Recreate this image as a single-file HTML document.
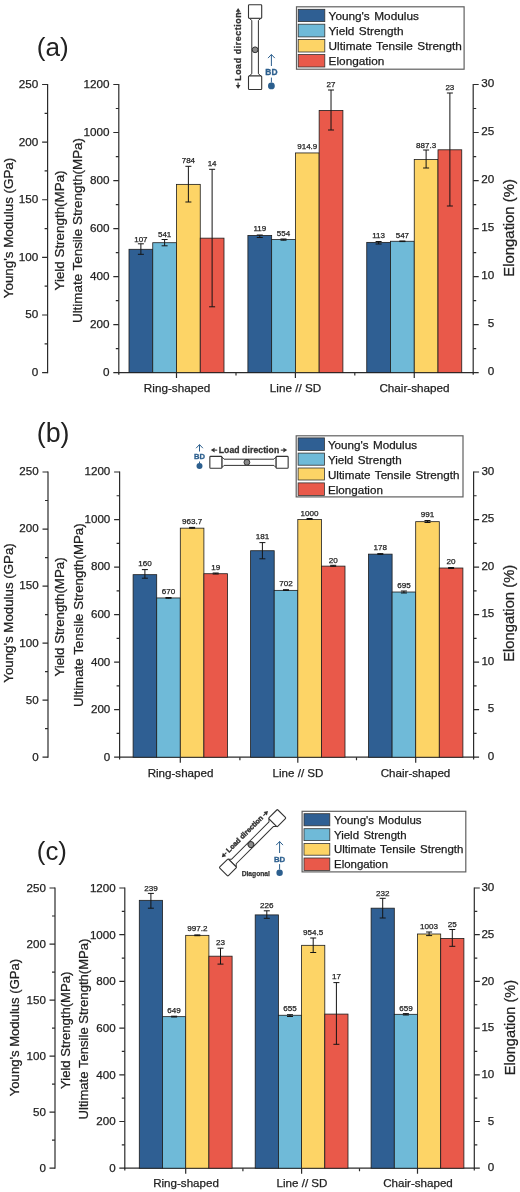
<!DOCTYPE html>
<html lang="en">
<head>
<meta charset="utf-8">
<title>Tensile properties</title>
<style>
html,body{margin:0;padding:0;background:#fff;}
body{width:520px;height:1192px;overflow:hidden;}
svg{display:block;font-family:"Liberation Sans",sans-serif;}
</style>
</head>
<body>
<svg width="520" height="1192" viewBox="0 0 520 1192">
<rect width="520" height="1192" fill="#fff"/>
<g stroke="#2b2b2b" stroke-width="1.2" fill="none" stroke-linecap="square">
<path d="M47.6 84.5V372.6"/>
<path d="M118.8 84.5V372.6"/>
<path d="M473.2 84.5V372.6"/>
<path d="M118.8 372.6H473.2"/>
</g>
<g stroke="#2b2b2b" stroke-width="1.2" fill="none">
<path d="M47.6 372.6h-5.5M47.6 343.79h-3M47.6 314.98h-5.5M47.6 286.17h-3M47.6 257.36h-5.5M47.6 228.55h-3M47.6 199.74h-5.5M47.6 170.93h-3M47.6 142.12h-5.5M47.6 113.31h-3M47.6 84.5h-5.5M118.8 372.6h-5.5M118.8 348.59h-3M118.8 324.58h-5.5M118.8 300.58h-3M118.8 276.57h-5.5M118.8 252.56h-3M118.8 228.55h-5.5M118.8 204.54h-3M118.8 180.53h-5.5M118.8 156.53h-3M118.8 132.52h-5.5M118.8 108.51h-3M118.8 84.5h-5.5M473.2 372.6h5.5M473.2 348.59h3M473.2 324.58h5.5M473.2 300.58h3M473.2 276.57h5.5M473.2 252.56h3M473.2 228.55h5.5M473.2 204.54h3M473.2 180.53h5.5M473.2 156.53h3M473.2 132.52h5.5M473.2 108.51h3M473.2 84.5h5.5M176.5 372.6v5.5M295.4 372.6v5.5M414.25 372.6v5.5M118.8 372.6v2.2M236 372.6v3M354.8 372.6v3M473.2 372.6v2.2"/>
</g>
<g stroke="#1c1c1c" stroke-width="0.8">
<rect x="129" y="249.29" width="23.75" height="123.31" fill="#2f5f93"/>
<rect x="152.75" y="242.71" width="23.75" height="129.89" fill="#6fbad8"/>
<rect x="176.5" y="184.37" width="23.75" height="188.23" fill="#fdd466"/>
<rect x="200.25" y="238.15" width="23.75" height="134.45" fill="#e9594a"/>
<rect x="247.9" y="235.46" width="23.75" height="137.14" fill="#2f5f93"/>
<rect x="271.65" y="239.59" width="23.75" height="133.01" fill="#6fbad8"/>
<rect x="295.4" y="152.95" width="23.75" height="219.65" fill="#fdd466"/>
<rect x="319.15" y="110.43" width="23.75" height="262.17" fill="#e9594a"/>
<rect x="366.75" y="242.38" width="23.75" height="130.22" fill="#2f5f93"/>
<rect x="390.5" y="241.27" width="23.75" height="131.33" fill="#6fbad8"/>
<rect x="414.25" y="159.57" width="23.75" height="213.03" fill="#fdd466"/>
<rect x="438" y="149.8" width="23.75" height="222.8" fill="#e9594a"/>
</g>
<g stroke="#141414" stroke-width="1" fill="none">
<path d="M140.88 243.8V254.3M137.88 243.8h6M137.88 254.3h6M164.62 239.5V245.8M161.62 239.5h6M161.62 245.8h6M188.38 166.3V202M185.38 166.3h6M185.38 202h6M212.12 169.3V306.8M209.12 169.3h6M209.12 306.8h6M259.77 235V237.5M256.77 235h6M256.77 237.5h6M283.52 239V240.2M280.52 239h6M280.52 240.2h6M331.02 90V130M328.02 90h6M328.02 130h6M378.62 241.5V244M375.62 241.5h6M375.62 244h6M402.38 241V241.6M399.38 241h6M399.38 241.6h6M426.12 150V168M423.12 150h6M423.12 168h6M449.88 93V206M446.88 93h6M446.88 206h6"/>
</g>
<g font-size="8" text-anchor="middle" fill="#222" stroke="#222" stroke-width="0.25">
<text x="140.88" y="241.6">107</text>
<text x="164.62" y="236.6">541</text>
<text x="188.38" y="163.4">784</text>
<text x="212.12" y="165.6">14</text>
<text x="259.77" y="231.4">119</text>
<text x="283.52" y="235.8">554</text>
<text x="307.27" y="149.4">914.9</text>
<text x="331.02" y="86.8">27</text>
<text x="378.62" y="238">113</text>
<text x="402.38" y="238">547</text>
<text x="426.12" y="148.4">887.3</text>
<text x="449.88" y="90.2">23</text>
</g>
<g font-size="11.7" fill="#222" stroke="#222" stroke-width="0.25">
<g text-anchor="end">
<text x="38.2" y="376.01">0</text>
<text x="38.2" y="318.39">50</text>
<text x="38.2" y="260.77">100</text>
<text x="38.2" y="203.15">150</text>
<text x="38.2" y="145.53">200</text>
<text x="38.2" y="87.91">250</text>
<text x="109.4" y="376.01">0</text>
<text x="109.4" y="328">200</text>
<text x="109.4" y="279.98">400</text>
<text x="109.4" y="231.96">600</text>
<text x="109.4" y="183.95">800</text>
<text x="109.4" y="135.93">1000</text>
<text x="109.4" y="87.91">1200</text>
</g>
<text x="494.3" y="375.41" text-anchor="end">0</text>
<text x="494.3" y="327.4" text-anchor="end">5</text>
<text x="494.3" y="279.38" text-anchor="end">10</text>
<text x="494.3" y="231.36" text-anchor="end">15</text>
<text x="494.3" y="183.35" text-anchor="end">20</text>
<text x="494.3" y="135.33" text-anchor="end">25</text>
<text x="494.3" y="87.31" text-anchor="end">30</text>
<g text-anchor="middle">
<text x="177" y="392">Ring-shaped</text>
<text x="295.5" y="392">Line // SD</text>
<text x="414.5" y="392">Chair-shaped</text>
</g></g>
<g font-size="13.4" fill="#222" stroke="#222" stroke-width="0.25" text-anchor="middle">
<text transform="translate(12.5 228) rotate(-90)">Young's Modulus (GPa)</text>
<text transform="translate(63.5 230.5) rotate(-90)">Yield Strength(MPa)</text>
<text transform="translate(82.3 230.5) rotate(-90)">Ultimate Tensile Strength(MPa)</text>
<text transform="translate(514.4 227.9) rotate(-90)" font-size="14.9">Elongation (%)</text>
</g>
<rect x="296.5" y="6.8" width="167.6" height="62.4" fill="#fff" stroke="#606060" stroke-width="1.2"/>
<g stroke="#333" stroke-width="0.8">
<rect x="298.2" y="9.3" width="26.6" height="12.3" fill="#2f5f93"/>
<rect x="298.2" y="24.2" width="26.6" height="12.7" fill="#6fbad8"/>
<rect x="298.2" y="39.4" width="26.6" height="12.6" fill="#fdd466"/>
<rect x="298.2" y="54.5" width="26.6" height="12.5" fill="#e9594a"/>
</g>
<g font-size="11.8" word-spacing="1.2" fill="#1a1a1a" stroke="#1a1a1a" stroke-width="0.25">
<text x="328.6" y="19.7">Young's Modulus</text>
<text x="328.6" y="34.8">Yield Strength</text>
<text x="328.6" y="49.95">Ultimate Tensile Strength</text>
<text x="328.6" y="65">Elongation</text>
</g>
<text x="36.8" y="56.2" font-size="26.1" fill="#222">(a)</text>
<g stroke="#2b2b2b" stroke-width="1.2" fill="none" stroke-linecap="square">
<path d="M48 472V757.2"/>
<path d="M119.6 472V757.2"/>
<path d="M473.6 472V757.2"/>
<path d="M119.6 757.2H473.6"/>
</g>
<g stroke="#2b2b2b" stroke-width="1.2" fill="none">
<path d="M48 757.2h-5.5M48 728.68h-3M48 700.16h-5.5M48 671.64h-3M48 643.12h-5.5M48 614.6h-3M48 586.08h-5.5M48 557.56h-3M48 529.04h-5.5M48 500.52h-3M48 472h-5.5M119.6 757.2h-5.5M119.6 733.43h-3M119.6 709.67h-5.5M119.6 685.9h-3M119.6 662.13h-5.5M119.6 638.37h-3M119.6 614.6h-5.5M119.6 590.83h-3M119.6 567.07h-5.5M119.6 543.3h-3M119.6 519.53h-5.5M119.6 495.77h-3M119.6 472h-5.5M473.6 757.2h5.5M473.6 733.43h3M473.6 709.67h5.5M473.6 685.9h3M473.6 662.13h5.5M473.6 638.37h3M473.6 614.6h5.5M473.6 590.83h3M473.6 567.07h5.5M473.6 543.3h3M473.6 519.53h5.5M473.6 495.77h3M473.6 472h5.5M180.3 757.2v5.5M297.8 757.2v5.5M415.7 757.2v5.5M119.6 757.2v2.2M239.9 757.2v3M356.5 757.2v3M473.6 757.2v2.2"/>
</g>
<g stroke="#1c1c1c" stroke-width="0.8">
<rect x="133.1" y="574.67" width="23.6" height="182.53" fill="#2f5f93"/>
<rect x="156.7" y="597.96" width="23.6" height="159.24" fill="#6fbad8"/>
<rect x="180.3" y="528.16" width="23.6" height="229.04" fill="#fdd466"/>
<rect x="203.9" y="573.72" width="23.6" height="183.48" fill="#e9594a"/>
<rect x="250.6" y="550.72" width="23.6" height="206.48" fill="#2f5f93"/>
<rect x="274.2" y="590.36" width="23.6" height="166.84" fill="#6fbad8"/>
<rect x="297.8" y="519.53" width="23.6" height="237.67" fill="#fdd466"/>
<rect x="321.4" y="566.12" width="23.6" height="191.08" fill="#e9594a"/>
<rect x="368.5" y="554.14" width="23.6" height="203.06" fill="#2f5f93"/>
<rect x="392.1" y="592.02" width="23.6" height="165.18" fill="#6fbad8"/>
<rect x="415.7" y="521.67" width="23.6" height="235.53" fill="#fdd466"/>
<rect x="439.3" y="568.02" width="23.6" height="189.18" fill="#e9594a"/>
</g>
<g stroke="#141414" stroke-width="1" fill="none">
<path d="M144.9 569.6V578.2M141.9 569.6h6M141.9 578.2h6M168.5 597.5V598.3M165.5 597.5h6M165.5 598.3h6M192.1 527.4V528.2M189.1 527.4h6M189.1 528.2h6M215.7 573V574M212.7 573h6M212.7 574h6M262.4 542.6V558.8M259.4 542.6h6M259.4 558.8h6M286 589.7V590.5M283 589.7h6M283 590.5h6M309.6 518.5V519.5M306.6 518.5h6M306.6 519.5h6M333.2 565.3V566.3M330.2 565.3h6M330.2 566.3h6M380.3 553.6V554.4M377.3 553.6h6M377.3 554.4h6M403.9 591V593M400.9 591h6M400.9 593h6M427.5 520.5V522.5M424.5 520.5h6M424.5 522.5h6M451.1 567.5V568.5M448.1 567.5h6M448.1 568.5h6"/>
</g>
<g font-size="8.1" text-anchor="middle" fill="#222" stroke="#222" stroke-width="0.25">
<text x="144.9" y="566.4">160</text>
<text x="168.5" y="594.4">670</text>
<text x="192.1" y="524.4">963.7</text>
<text x="215.7" y="569.8">19</text>
<text x="262.4" y="539.3">181</text>
<text x="286" y="586.3">702</text>
<text x="309.6" y="515.6">1000</text>
<text x="333.2" y="562.5">20</text>
<text x="380.3" y="550.4">178</text>
<text x="403.9" y="587.5">695</text>
<text x="427.5" y="517">991</text>
<text x="451.1" y="564.3">20</text>
</g>
<g font-size="11.6" fill="#222" stroke="#222" stroke-width="0.25">
<g text-anchor="end">
<text x="38.7" y="760.58">0</text>
<text x="38.7" y="703.54">50</text>
<text x="38.7" y="646.5">100</text>
<text x="38.7" y="589.46">150</text>
<text x="38.7" y="532.42">200</text>
<text x="38.7" y="475.38">250</text>
<text x="110.3" y="760.58">0</text>
<text x="110.3" y="713.04">200</text>
<text x="110.3" y="665.51">400</text>
<text x="110.3" y="617.98">600</text>
<text x="110.3" y="570.44">800</text>
<text x="110.3" y="522.91">1000</text>
<text x="110.3" y="475.38">1200</text>
</g>
<text x="494.3" y="759.98" text-anchor="end">0</text>
<text x="494.3" y="712.44" text-anchor="end">5</text>
<text x="494.3" y="664.91" text-anchor="end">10</text>
<text x="494.3" y="617.38" text-anchor="end">15</text>
<text x="494.3" y="569.84" text-anchor="end">20</text>
<text x="494.3" y="522.31" text-anchor="end">25</text>
<text x="494.3" y="474.78" text-anchor="end">30</text>
<g text-anchor="middle">
<text x="180.5" y="776.5">Ring-shaped</text>
<text x="298" y="776.5">Line // SD</text>
<text x="415.5" y="776.5">Chair-shaped</text>
</g></g>
<g font-size="13.3" fill="#222" stroke="#222" stroke-width="0.25" text-anchor="middle">
<text transform="translate(12.8 613) rotate(-90)">Young's Modulus (GPa)</text>
<text transform="translate(63.8 617) rotate(-90)">Yield Strength(MPa)</text>
<text transform="translate(82.5 615.2) rotate(-90)">Ultimate Tensile Strength(MPa)</text>
<text transform="translate(514.4 613.3) rotate(-90)" font-size="14.8">Elongation (%)</text>
</g>
<rect x="296.2" y="435.8" width="166.8" height="61.1" fill="#fff" stroke="#606060" stroke-width="1.2"/>
<g stroke="#333" stroke-width="0.8">
<rect x="298.1" y="437.9" width="26.3" height="12.5" fill="#2f5f93"/>
<rect x="298.1" y="453.1" width="26.3" height="12.1" fill="#6fbad8"/>
<rect x="298.1" y="468" width="26.3" height="12" fill="#fdd466"/>
<rect x="298.1" y="482.9" width="26.3" height="12.5" fill="#e9594a"/>
</g>
<g font-size="11.65" word-spacing="1.2" fill="#1a1a1a" stroke="#1a1a1a" stroke-width="0.25">
<text x="327.9" y="449.14">Young's Modulus</text>
<text x="327.9" y="464.14">Yield Strength</text>
<text x="327.9" y="478.99">Ultimate Tensile Strength</text>
<text x="327.9" y="494.14">Elongation</text>
</g>
<text x="36.8" y="442.4" font-size="26.8" fill="#222">(b)</text>
<g stroke="#2b2b2b" stroke-width="1.2" fill="none" stroke-linecap="square">
<path d="M55 888V1168.2"/>
<path d="M124.8 888V1168.2"/>
<path d="M474.3 888V1168.2"/>
<path d="M124.8 1168.2H474.3"/>
</g>
<g stroke="#2b2b2b" stroke-width="1.2" fill="none">
<path d="M55 1168.2h-5.5M55 1140.18h-3M55 1112.16h-5.5M55 1084.14h-3M55 1056.12h-5.5M55 1028.1h-3M55 1000.08h-5.5M55 972.06h-3M55 944.04h-5.5M55 916.02h-3M55 888h-5.5M124.8 1168.2h-5.5M124.8 1144.85h-3M124.8 1121.5h-5.5M124.8 1098.15h-3M124.8 1074.8h-5.5M124.8 1051.45h-3M124.8 1028.1h-5.5M124.8 1004.75h-3M124.8 981.4h-5.5M124.8 958.05h-3M124.8 934.7h-5.5M124.8 911.35h-3M124.8 888h-5.5M474.3 1168.2h5.5M474.3 1144.85h3M474.3 1121.5h5.5M474.3 1098.15h3M474.3 1074.8h5.5M474.3 1051.45h3M474.3 1028.1h5.5M474.3 1004.75h3M474.3 981.4h5.5M474.3 958.05h3M474.3 934.7h5.5M474.3 911.35h3M474.3 888h5.5M185.7 1168.2v5.5M301.6 1168.2v5.5M417.5 1168.2v5.5M124.8 1168.2v2.2M242.9 1168.2v3M359.5 1168.2v3M474.3 1168.2v2.2"/>
</g>
<g stroke="#1c1c1c" stroke-width="0.8">
<rect x="139.3" y="900.33" width="23.2" height="267.87" fill="#2f5f93"/>
<rect x="162.5" y="1016.66" width="23.2" height="151.54" fill="#6fbad8"/>
<rect x="185.7" y="935.35" width="23.2" height="232.85" fill="#fdd466"/>
<rect x="208.9" y="956.18" width="23.2" height="212.02" fill="#e9594a"/>
<rect x="255.2" y="914.9" width="23.2" height="253.3" fill="#2f5f93"/>
<rect x="278.4" y="1015.26" width="23.2" height="152.94" fill="#6fbad8"/>
<rect x="301.6" y="945.32" width="23.2" height="222.88" fill="#fdd466"/>
<rect x="324.8" y="1014.09" width="23.2" height="154.11" fill="#e9594a"/>
<rect x="371.1" y="908.17" width="23.2" height="260.03" fill="#2f5f93"/>
<rect x="394.3" y="1014.32" width="23.2" height="153.88" fill="#6fbad8"/>
<rect x="417.5" y="934" width="23.2" height="234.2" fill="#fdd466"/>
<rect x="440.7" y="938.44" width="23.2" height="229.76" fill="#e9594a"/>
</g>
<g stroke="#141414" stroke-width="1" fill="none">
<path d="M150.9 893.4V908.2M147.9 893.4h6M147.9 908.2h6M174.1 1016.2V1017M171.1 1016.2h6M171.1 1017h6M197.3 934.9V935.7M194.3 934.9h6M194.3 935.7h6M220.5 948.2V964.1M217.5 948.2h6M217.5 964.1h6M266.8 910.8V918.3M263.8 910.8h6M263.8 918.3h6M290 1014.7V1016.5M287 1014.7h6M287 1016.5h6M313.2 938V952.5M310.2 938h6M310.2 952.5h6M336.4 982.6V1044.3M333.4 982.6h6M333.4 1044.3h6M382.7 898.3V918M379.7 898.3h6M379.7 918h6M405.9 1013.6V1015M402.9 1013.6h6M402.9 1015h6M429.1 932V935.6M426.1 932h6M426.1 935.6h6M452.3 929.5V946.3M449.3 929.5h6M449.3 946.3h6"/>
</g>
<g font-size="8.1" text-anchor="middle" fill="#222" stroke="#222" stroke-width="0.25">
<text x="150.9" y="890.8">239</text>
<text x="174.1" y="1012.9">649</text>
<text x="197.3" y="931.4">997.2</text>
<text x="220.5" y="945">23</text>
<text x="266.8" y="908">226</text>
<text x="290" y="1011.4">655</text>
<text x="313.2" y="935">954.5</text>
<text x="336.4" y="979">17</text>
<text x="382.7" y="895.5">232</text>
<text x="405.9" y="1010.6">659</text>
<text x="429.1" y="928.6">1003</text>
<text x="452.3" y="926.7">25</text>
</g>
<g font-size="11.6" fill="#222" stroke="#222" stroke-width="0.25">
<g text-anchor="end">
<text x="45.9" y="1172.08">0</text>
<text x="45.9" y="1116.04">50</text>
<text x="45.9" y="1060">100</text>
<text x="45.9" y="1003.96">150</text>
<text x="45.9" y="947.92">200</text>
<text x="45.9" y="891.88">250</text>
<text x="115.7" y="1172.08">0</text>
<text x="115.7" y="1125.38">200</text>
<text x="115.7" y="1078.68">400</text>
<text x="115.7" y="1031.98">600</text>
<text x="115.7" y="985.28">800</text>
<text x="115.7" y="938.58">1000</text>
<text x="115.7" y="891.88">1200</text>
</g>
<text x="494.3" y="1171.48" text-anchor="end">0</text>
<text x="494.3" y="1124.78" text-anchor="end">5</text>
<text x="494.3" y="1078.08" text-anchor="end">10</text>
<text x="494.3" y="1031.38" text-anchor="end">15</text>
<text x="494.3" y="984.68" text-anchor="end">20</text>
<text x="494.3" y="937.98" text-anchor="end">25</text>
<text x="494.3" y="891.28" text-anchor="end">30</text>
<g text-anchor="middle">
<text x="186" y="1187">Ring-shaped</text>
<text x="302" y="1187">Line // SD</text>
<text x="418" y="1187">Chair-shaped</text>
</g></g>
<g font-size="13.1" fill="#222" stroke="#222" stroke-width="0.25" text-anchor="middle">
<text transform="translate(19.4 1027.5) rotate(-90)">Young's Modulus (GPa)</text>
<text transform="translate(69.8 1030.3) rotate(-90)">Yield Strength(MPa)</text>
<text transform="translate(88.4 1029) rotate(-90)">Ultimate Tensile Strength(MPa)</text>
<text transform="translate(514.9 1027.6) rotate(-90)" font-size="14.5">Elongation (%)</text>
</g>
<rect x="302.1" y="811.3" width="163.7" height="60.6" fill="#fff" stroke="#606060" stroke-width="1.2"/>
<g stroke="#333" stroke-width="0.8">
<rect x="304" y="813.7" width="25.8" height="12.1" fill="#2f5f93"/>
<rect x="304" y="828.7" width="25.8" height="11.9" fill="#6fbad8"/>
<rect x="304" y="843.5" width="25.8" height="11.7" fill="#fdd466"/>
<rect x="304" y="858" width="25.8" height="12.4" fill="#e9594a"/>
</g>
<g font-size="11.45" word-spacing="1.2" fill="#1a1a1a" stroke="#1a1a1a" stroke-width="0.25">
<text x="334" y="823.87">Young's Modulus</text>
<text x="334" y="838.77">Yield Strength</text>
<text x="334" y="853.47">Ultimate Tensile Strength</text>
<text x="334" y="868.32">Elongation</text>
</g>
<text x="36.8" y="859.8" font-size="25.8" fill="#222">(c)</text>
<g transform="translate(255.1 47.1) rotate(-90)"><g fill="#fff" stroke="#333" stroke-width="1.1" stroke-linejoin="round"><path d="M-28.9 -6L-26.7 -3.3H26.7L28.9 -6V6L26.7 3.3H-26.7L-28.9 6Z" stroke-width="1"/><rect x="-42.4" y="-6.6" width="13.5" height="13.2" rx="0.8"/><rect x="28.9" y="-6.6" width="13.5" height="13.2" rx="0.8"/><circle cx="-2.7" r="2.9" fill="#8a8a8a" stroke="#333" stroke-width="1"/></g></g>
<g transform="translate(240.8 46.3) rotate(-90)"><text text-anchor="middle" font-weight="bold" font-size="8.9" letter-spacing="0.57" fill="#333" stroke="#333" stroke-width="0.3" y="0">Load direction</text><path d="M-42.5 -2.67l3.8 -2.4v4.8z" fill="#333"/><path d="M-38.9 -2.67h2.8" stroke="#333" stroke-width="1.1"/><path d="M38.3 -2.67l-3.8 -2.4v4.8z" fill="#333"/><path d="M34.7 -2.67h-2.8" stroke="#333" stroke-width="1.1"/></g>
<g stroke="#2c5f8e" fill="none" stroke-width="1"><path d="M271.4 66V54.5M268 58.1L271.4 54.5L274.8 58.1"/><path d="M271.4 77.6V82.5"/></g><circle cx="271.4" cy="85.9" r="3.4" fill="#2c5f8e"/><text x="271.4" y="75.4" text-anchor="middle" font-weight="bold" font-size="8.4" fill="#2c5f8e" stroke="#2c5f8e" stroke-width="0.3">BD</text>
<g transform="translate(249 462.3)"><g fill="#fff" stroke="#333" stroke-width="1.1" stroke-linejoin="round"><path d="M-27.15 -5.3L-24.95 -3.1H24.95L27.15 -5.3V5.3L24.95 3.1H-24.95L-27.15 5.3Z" stroke-width="1"/><rect x="-39.15" y="-5.9" width="12" height="11.8" rx="0.8"/><rect x="27.15" y="-5.9" width="12" height="11.8" rx="0.8"/><circle cx="-2.1" r="2.9" fill="#8a8a8a" stroke="#333" stroke-width="1"/></g></g>
<g transform="translate(249 452.7)"><text text-anchor="middle" font-weight="bold" font-size="8.6" letter-spacing="0.1" fill="#333" stroke="#333" stroke-width="0.3" y="0">Load direction</text><path d="M-38.2 -2.58l3.8 -2.4v4.8z" fill="#333"/><path d="M-34.6 -2.58h2.8" stroke="#333" stroke-width="1.1"/><path d="M38.2 -2.58l-3.8 -2.4v4.8z" fill="#333"/><path d="M34.6 -2.58h-2.8" stroke="#333" stroke-width="1.1"/></g>
<g stroke="#2c5f8e" fill="none" stroke-width="1"><path d="M199.5 451.5V444.6M196.1 448.2L199.5 444.6L202.9 448.2"/><path d="M199.5 461.5V463"/></g><circle cx="199.5" cy="466" r="3" fill="#2c5f8e"/><text x="199.5" y="459.3" text-anchor="middle" font-weight="bold" font-size="7.6" fill="#2c5f8e" stroke="#2c5f8e" stroke-width="0.3">BD</text>
<g transform="translate(252.6 842.8) rotate(-45)"><g fill="#fff" stroke="#333" stroke-width="1.1" stroke-linejoin="round"><path d="M-28.6 -5.5L-26.4 -3.2H26.4L28.6 -5.5V5.5L26.4 3.2H-26.4L-28.6 5.5Z" stroke-width="1"/><rect x="-41.1" y="-6.1" width="12.5" height="12.2" rx="0.8"/><rect x="28.6" y="-6.1" width="12.5" height="12.2" rx="0.8"/><circle cx="-2.4" r="2.9" fill="#8a8a8a" stroke="#333" stroke-width="1"/></g></g>
<g transform="translate(246.4 835.6) rotate(-45)"><text text-anchor="middle" font-weight="bold" font-size="7.1" letter-spacing="0" fill="#333" stroke="#333" stroke-width="0.4" y="0">Load direction</text><path d="M-32.6 -2.13l3.8 -2.4v4.8z" fill="#333"/><path d="M-29 -2.13h2.8" stroke="#333" stroke-width="1.1"/><path d="M32.6 -2.13l-3.8 -2.4v4.8z" fill="#333"/><path d="M29 -2.13h-2.8" stroke="#333" stroke-width="1.1"/></g>
<g stroke="#2c5f8e" fill="none" stroke-width="1"><path d="M279.6 853V841.5M276.2 845.1L279.6 841.5L283 845.1"/><path d="M279.6 864.1V869.5"/></g><circle cx="279.6" cy="872.7" r="3.2" fill="#2c5f8e"/><text x="279.6" y="861.9" text-anchor="middle" font-weight="bold" font-size="7.8" fill="#2c5f8e" stroke="#2c5f8e" stroke-width="0.3">BD</text>
<text x="255.8" y="875.5" text-anchor="middle" font-weight="bold" font-size="6.7" fill="#333" stroke="#333" stroke-width="0.25">Diagonal</text>
</svg>
</body>
</html>
